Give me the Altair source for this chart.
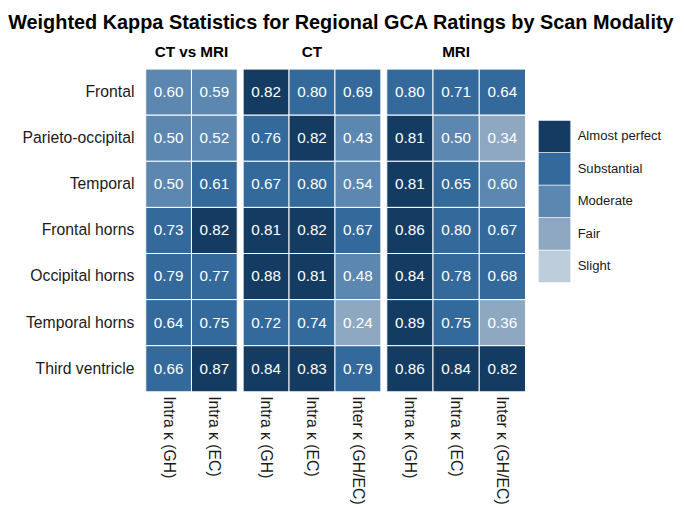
import altair as alt
import pandas as pd

FONT = "Liberation Sans"

regions = ["Frontal", "Parieto-occipital", "Temporal", "Frontal horns",
           "Occipital horns", "Temporal horns", "Third ventricle"]

measures_ctmri = ["Intra κ (GH)", "Intra κ (EC)"]
measures_mod = ["Intra κ (GH)", "Intra κ (EC)", "Inter κ (GH/EC)"]

# CT vs MRI
ctmri_intra_gh = [0.60, 0.50, 0.50, 0.73, 0.79, 0.64, 0.66]
ctmri_intra_ec = [0.59, 0.52, 0.61, 0.82, 0.77, 0.75, 0.87]
# CT
ct_intra_gh = [0.82, 0.76, 0.67, 0.81, 0.88, 0.72, 0.84]
ct_intra_ec = [0.80, 0.82, 0.80, 0.82, 0.81, 0.74, 0.83]
ct_inter = [0.69, 0.43, 0.54, 0.67, 0.48, 0.24, 0.79]
# MRI
mri_intra_gh = [0.80, 0.81, 0.81, 0.86, 0.84, 0.89, 0.86]
mri_intra_ec = [0.71, 0.50, 0.65, 0.80, 0.78, 0.75, 0.84]
mri_inter = [0.64, 0.34, 0.60, 0.67, 0.68, 0.36, 0.82]

categories = ["Almost perfect", "Substantial", "Moderate", "Fair", "Slight"]
cat_colors = ["#143c63", "#336a9b", "#5b87b0", "#8fa8c2", "#bdcddc"]


def category(v):
    v = round(v, 2)
    if v > 0.80:
        return "Almost perfect"
    if v > 0.60:
        return "Substantial"
    if v > 0.40:
        return "Moderate"
    if v > 0.20:
        return "Fair"
    return "Slight"


series = [
    ("CT vs MRI", measures_ctmri[0], ctmri_intra_gh),
    ("CT vs MRI", measures_ctmri[1], ctmri_intra_ec),
    ("CT", measures_mod[0], ct_intra_gh),
    ("CT", measures_mod[1], ct_intra_ec),
    ("CT", measures_mod[2], ct_inter),
    ("MRI", measures_mod[0], mri_intra_gh),
    ("MRI", measures_mod[1], mri_intra_ec),
    ("MRI", measures_mod[2], mri_inter),
]

rows = []
for mod, meas, vals in series:
    for r, v in zip(regions, vals):
        rows.append({"modality": mod, "measure": meas, "region": r,
                     "value": v, "category": category(v)})
df = pd.DataFrame(rows)

color = alt.Color("category:N",
                  scale=alt.Scale(domain=categories, range=cat_colors),
                  legend=alt.Legend(title=None, orient="none",
                                    legendX=399, legendY=52,
                                    symbolType="square", symbolSize=1040,
                                    symbolStrokeWidth=0, symbolOpacity=1,
                                    rowPadding=0, labelFontSize=13.3,
                                    labelFont=FONT, labelColor="#1a1a1a",
                                    labelOffset=7))


def panel(mod, cols, width, show_y):
    yaxis = alt.Axis(title=None, domain=False, ticks=False, labelFontSize=16,
                     labelFont=FONT, labelColor="#1a1a1a", labelPadding=12) if show_y else None
    base = alt.Chart(df[df.modality == mod]).encode(
        x=alt.X("measure:N", sort=cols,
                axis=alt.Axis(title=None, domain=False, ticks=False,
                              labelAngle=90, labelFontSize=16, labelFont=FONT,
                              labelColor="#1a1a1a", labelPadding=4,
                              labelLimit=200)),
        y=alt.Y("region:N", sort=regions, axis=yaxis),
    )
    rect = base.mark_rect(stroke="white", strokeWidth=1).encode(color=color)
    text = base.mark_text(color="white", fontSize=15.5, font=FONT).encode(
        text=alt.Text("value:Q", format=".2f"))
    return (rect + text).properties(
        width=width, height=328,
        title=alt.TitleParams(mod, fontSize=15.5, fontWeight="bold", font=FONT,
                              anchor="middle", offset=8, color="#000000"))


chart = alt.hconcat(
    panel("CT vs MRI", measures_ctmri, 93, True),
    panel("CT", measures_mod, 140, False),
    panel("MRI", measures_mod, 141, False),
    spacing=4,
).properties(
    title=alt.TitleParams("Weighted Kappa Statistics for Regional GCA Ratings by Scan Modality",
                          fontSize=20.2, fontWeight="bold", font=FONT,
                          anchor="start", offset=13, dx=-14,
                          color="#000000"),
    padding={"left": 0, "top": 0, "right": 2, "bottom": 0},
).configure_view(stroke=None)

chart.save("out.html", embed_options={"renderer": "svg", "actions": False})
